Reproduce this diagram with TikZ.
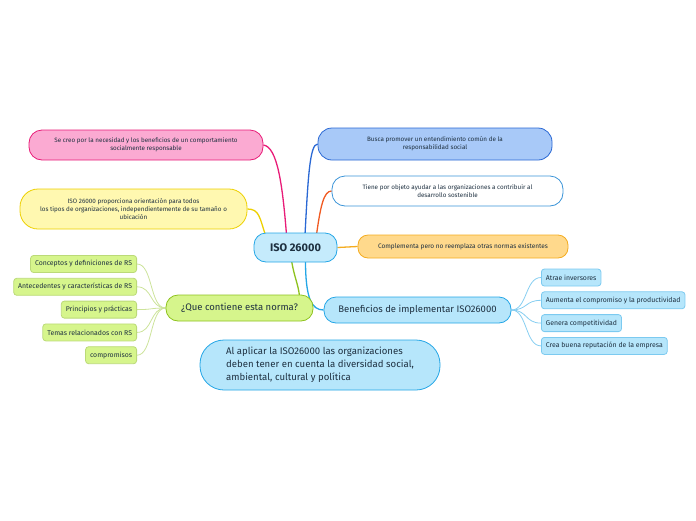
\documentclass[tikz,border=0pt]{standalone}
\usepackage{fontspec}
\setmainfont{Fira Sans}
\usepackage{xcolor}
\usetikzlibrary{positioning, calc, backgrounds}

\definecolor{pinkfill}{HTML}{FBAAD2}
\definecolor{pinkline}{HTML}{E81C78}
\definecolor{yelfill}{HTML}{FFF8B0}
\definecolor{yelline}{HTML}{EDD000}
\definecolor{blufill}{HTML}{A8C9F8}
\definecolor{bluline}{HTML}{2A68D4}
\definecolor{whtline}{HTML}{3A94D8}
\definecolor{orgfill}{HTML}{FFD98C}
\definecolor{orgline}{HTML}{F4AC20}
\definecolor{skyfill}{HTML}{B6E6FB}
\definecolor{skyline}{HTML}{24A6E6}
\definecolor{grnfill}{HTML}{D6F58C}
\definecolor{grnline}{HTML}{8EC21E}
\definecolor{redline}{HTML}{F05A22}
\definecolor{textcol}{HTML}{1E3040}

\begin{document}
\begin{tikzpicture}[x=1pt, y=-1pt,
    % main topics (big pill shapes)
    topic/.style={rectangle, thick, rounded corners=13pt, align=center,
                  text=textcol, inner sep=2pt},
    % central idea
    central/.style={rectangle, thick, rounded corners=12pt, align=center,
                    draw=skyline, fill=skyfill!80, minimum width=83pt,
                    minimum height=29pt, font=\fontsize{11}{13}\selectfont\bfseries,
                    text=textcol},
    % small leaves
    leafg/.style={rectangle, draw=grnline!60, fill=grnfill, rounded corners=3pt,
                  thick, minimum height=17pt, inner xsep=4.5pt, text=textcol,
                  font=\fontsize{6.9}{7}\selectfont},
    leafb/.style={rectangle, draw=skyline!60, fill=skyfill, rounded corners=3pt,
                  thick, minimum height=17pt, inner xsep=4.5pt, text=textcol,
                  font=\fontsize{6.9}{7}\selectfont},
    link/.style={line width=1.3pt},
    twig/.style={line width=0.8pt}
]
\useasboundingbox (0,0) rectangle (696,520);

%-------- CENTRAL --------
\node[central] (iso) at (295.5,247.5) {ISO 26000};

%-------- LEFT TOPICS --------
\node[topic, draw=pinkline, fill=pinkfill, minimum width=234pt, minimum height=30pt,
      font=\fontsize{6.3}{8}\selectfont] (origen) at (146,145)
    {Se creo por la necesidad y los beneficios de un comportamiento\\socialmente responsable};
\node[topic, draw=yelline, fill=yelfill, minimum width=227pt, minimum height=40pt,
      rounded corners=18pt, font=\fontsize{6.3}{8}\selectfont] (guia) at (133.5,209)
    {ISO 26000 proporciona orientación para todos\\los tipos de organizaciones, independientemente de su tamaño o\\ubicación};

%-------- RIGHT TOPICS --------
\node[topic, draw=bluline, fill=blufill, minimum width=234pt, minimum height=32pt,
      rounded corners=14pt, font=\fontsize{6.3}{8}\selectfont] (busca) at (435,144)
    {Busca promover un entendimiento común de la\\responsabilidad social};
\node[topic, draw=whtline, fill=white, minimum width=231pt, minimum height=30pt,
      font=\fontsize{6.3}{8}\selectfont] (objeto) at (447.5,191)
    {Tiene por objeto ayudar a las organizaciones a contribuir al\\desarrollo sostenible};
\node[topic, draw=orgline, fill=orgfill, minimum width=210pt, minimum height=23pt,
      rounded corners=10pt, font=\fontsize{6.5}{8}\selectfont] (complementa) at (463,246.5)
    {Complementa pero no reemplaza otras normas existentes};

%-------- BENEFITS --------
\node[topic, draw=skyline, fill=skyfill, minimum width=187pt, minimum height=26pt,
      rounded corners=12pt, font=\fontsize{9.5}{11}\selectfont] (benef) at (417.5,310)
    {Beneficios de implementar ISO26000};
\node[leafb, anchor=west] (inversores) at (541,277.5) {Atrae inversores};
\node[leafb, below=5pt of inversores.south west, anchor=north west] (compromiso)
    {Aumenta el compromiso y la productividad};
\node[leafb, below=5pt of compromiso.south west, anchor=north west] (competitividad)
    {Genera competitividad};
\node[leafb, below=5pt of competitividad.south west, anchor=north west] (reputacion)
    {Crea buena reputación de la empresa};

%-------- CONTENTS --------
\node[topic, draw=grnline, fill=grnfill, minimum width=147pt, minimum height=26pt,
      rounded corners=12pt, font=\fontsize{9.5}{11}\selectfont] (contiene) at (239.5,308)
    {¿Que contiene esta norma?};
\node[leafg, anchor=east] (conceptos) at (137,264) {Conceptos y definiciones de RS};
\node[leafg, below=5pt of conceptos.south east, anchor=north east] (antecedentes)
    {Antecedentes y características de RS};
\node[leafg, below=5pt of antecedentes.south east, anchor=north east] (principios)
    {Principios y prácticas};
\node[leafg, below=5pt of principios.south east, anchor=north east] (temas)
    {Temas relacionados con RS};
\node[leafg, below=5pt of temas.south east, anchor=north east] (compromisos)
    {compromisos};

%-------- FLOATING NOTE --------
\node[topic, draw=skyline, fill=skyfill, minimum width=240pt, minimum height=50pt,
      rounded corners=24pt, align=left, font=\fontsize{9.6}{13}\selectfont] (diversidad)
    at (320,365)
    {Al aplicar la ISO26000 las organizaciones\\deben tener en cuenta la diversidad social,\\ambiental, cultural y política};

%-------- CONNECTORS --------
\begin{scope}[on background layer]
\draw[link, pinkline] ($(iso.north)+(-9,2)$) .. controls +(-4,-50) and +(14,2) .. (origen.east);
\draw[link, yelline] ($(iso.north west)+(12,3)$) .. controls +(-6,-18) and +(12,0) .. (guia.east);
\draw[link, bluline] ($(iso.north)+(9.5,2)$) .. controls +(3,-55) and +(-8,0) .. (busca.west);
\draw[link, redline] ($(iso.north)+(21,2)$) .. controls +(4,-28) and +(-8,0) .. (objeto.west);
\draw[link, orgline] (iso.east) -- (complementa.west);
\draw[link, grnline] ($(iso.south)+(-4,-2)$) .. controls +(3,18) and +(-1,-12) .. ($(contiene.north)+(60,2)$);
\draw[link, skyline] ($(iso.south)+(10,-2)$) .. controls +(0,38) and +(-12,0) .. (benef.west);

% leaves
\foreach \leaf in {conceptos, antecedentes, principios, temas, compromisos}
    \draw[twig, grnline!45] (contiene.west) .. controls +(-16,0) and +(16,0) .. (\leaf.east);
\foreach \leaf in {inversores, compromiso, competitividad, reputacion}
    \draw[twig, skyline!55] (benef.east) .. controls +(16,0) and +(-16,0) .. (\leaf.west);
\end{scope}

\end{tikzpicture}
\end{document}
